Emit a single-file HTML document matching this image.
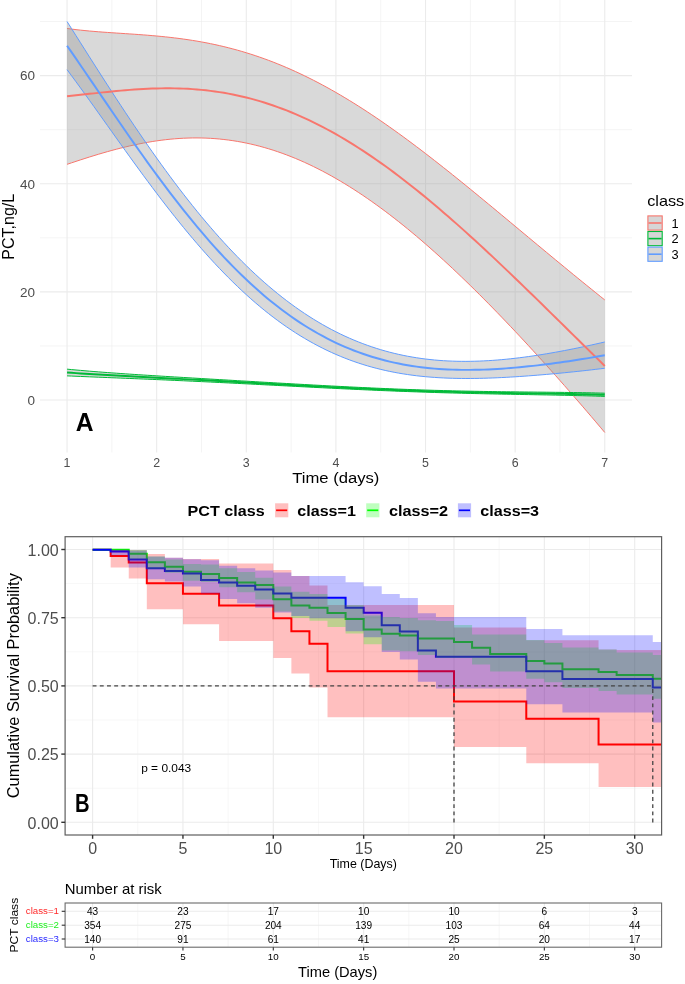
<!DOCTYPE html>
<html><head><meta charset="utf-8"><title>PCT class trajectories and survival</title>
<style>html,body{margin:0;padding:0;background:#fff;}svg{display:block;}</style>
</head><body>
<svg width="685" height="984" viewBox="0 0 685 984" font-family="'Liberation Sans', Arial, Helvetica, sans-serif">
<rect width="685" height="984" fill="#ffffff"/>
<defs><clipPath id="cpTop"><rect x="40.0" y="0.0" width="592.0" height="452.5"/></clipPath></defs>
<line x1="40.0" x2="632.0" y1="345.93" y2="345.93" stroke="#ebebeb" stroke-width="0.55"/><line x1="40.0" x2="632.0" y1="237.79" y2="237.79" stroke="#ebebeb" stroke-width="0.55"/><line x1="40.0" x2="632.0" y1="129.65" y2="129.65" stroke="#ebebeb" stroke-width="0.55"/><line x1="40.0" x2="632.0" y1="21.51" y2="21.51" stroke="#ebebeb" stroke-width="0.55"/><line x1="111.86" x2="111.86" y1="0.0" y2="452.5" stroke="#ebebeb" stroke-width="0.55"/><line x1="201.48" x2="201.48" y1="0.0" y2="452.5" stroke="#ebebeb" stroke-width="0.55"/><line x1="291.10" x2="291.10" y1="0.0" y2="452.5" stroke="#ebebeb" stroke-width="0.55"/><line x1="380.72" x2="380.72" y1="0.0" y2="452.5" stroke="#ebebeb" stroke-width="0.55"/><line x1="470.34" x2="470.34" y1="0.0" y2="452.5" stroke="#ebebeb" stroke-width="0.55"/><line x1="559.96" x2="559.96" y1="0.0" y2="452.5" stroke="#ebebeb" stroke-width="0.55"/><line x1="40.0" x2="632.0" y1="400.00" y2="400.00" stroke="#ebebeb" stroke-width="1.1"/><line x1="40.0" x2="632.0" y1="291.86" y2="291.86" stroke="#ebebeb" stroke-width="1.1"/><line x1="40.0" x2="632.0" y1="183.72" y2="183.72" stroke="#ebebeb" stroke-width="1.1"/><line x1="40.0" x2="632.0" y1="75.58" y2="75.58" stroke="#ebebeb" stroke-width="1.1"/><line x1="67.05" x2="67.05" y1="0.0" y2="452.5" stroke="#ebebeb" stroke-width="1.1"/><line x1="156.67" x2="156.67" y1="0.0" y2="452.5" stroke="#ebebeb" stroke-width="1.1"/><line x1="246.29" x2="246.29" y1="0.0" y2="452.5" stroke="#ebebeb" stroke-width="1.1"/><line x1="335.91" x2="335.91" y1="0.0" y2="452.5" stroke="#ebebeb" stroke-width="1.1"/><line x1="425.53" x2="425.53" y1="0.0" y2="452.5" stroke="#ebebeb" stroke-width="1.1"/><line x1="515.15" x2="515.15" y1="0.0" y2="452.5" stroke="#ebebeb" stroke-width="1.1"/><line x1="604.77" x2="604.77" y1="0.0" y2="452.5" stroke="#ebebeb" stroke-width="1.1"/>
<g clip-path="url(#cpTop)"><polygon points="67.05,28.46 71.53,29.07 76.01,29.63 80.49,30.13 84.97,30.59 89.45,31.02 93.94,31.40 98.42,31.77 102.90,32.11 107.38,32.43 111.86,32.74 116.34,33.04 120.82,33.33 125.30,33.63 129.78,33.93 134.26,34.23 138.75,34.55 143.23,34.88 147.71,35.23 152.19,35.61 156.67,36.01 161.15,36.43 165.63,36.89 170.11,37.38 174.59,37.90 179.07,38.46 183.56,39.07 188.04,39.71 192.52,40.41 197.00,41.14 201.48,41.93 205.96,42.76 210.44,43.65 214.92,44.59 219.40,45.59 223.88,46.64 228.37,47.74 232.85,48.91 237.33,50.13 241.81,51.41 246.29,52.76 250.77,54.16 255.25,55.62 259.73,57.15 264.21,58.73 268.69,60.38 273.18,62.09 277.66,63.87 282.14,65.70 286.62,67.60 291.10,69.56 295.58,71.58 300.06,73.66 304.54,75.80 309.02,78.00 313.50,80.27 317.99,82.59 322.47,84.97 326.95,87.40 331.43,89.90 335.91,92.45 340.39,95.05 344.87,97.71 349.35,100.43 353.83,103.19 358.31,106.01 362.80,108.87 367.28,111.79 371.76,114.75 376.24,117.76 380.72,120.81 385.20,123.91 389.68,127.05 394.16,130.23 398.64,133.45 403.13,136.71 407.61,140.00 412.09,143.33 416.57,146.69 421.05,150.09 425.53,153.52 430.01,156.97 434.49,160.46 438.97,163.97 443.45,167.50 447.94,171.06 452.42,174.64 456.90,178.24 461.38,181.86 465.86,185.50 470.34,189.15 474.82,192.82 479.30,196.50 483.78,200.19 488.26,203.89 492.75,207.60 497.23,211.32 501.71,215.05 506.19,218.78 510.67,222.51 515.15,226.24 519.63,229.98 524.11,233.72 528.59,237.45 533.07,241.19 537.55,244.92 542.04,248.64 546.52,252.36 551.00,256.08 555.48,259.78 559.96,263.48 564.44,267.17 568.92,270.86 573.40,274.53 577.88,278.19 582.37,281.85 586.85,285.49 591.33,289.12 595.81,292.74 600.29,296.35 604.77,299.94 604.77,432.48 600.29,427.17 595.81,421.88 591.33,416.62 586.85,411.38 582.37,406.17 577.88,400.99 573.40,395.83 568.92,390.70 564.44,385.60 559.96,380.52 555.48,375.47 551.00,370.45 546.52,365.46 542.04,360.49 537.55,355.56 533.07,350.65 528.59,345.77 524.11,340.93 519.63,336.12 515.15,331.34 510.67,326.59 506.19,321.88 501.71,317.20 497.23,312.56 492.75,307.95 488.26,303.39 483.78,298.86 479.30,294.37 474.82,289.92 470.34,285.52 465.86,281.15 461.38,276.83 456.90,272.56 452.42,268.33 447.94,264.15 443.45,260.02 438.97,255.94 434.49,251.91 430.01,247.93 425.53,244.01 421.05,240.14 416.57,236.32 412.09,232.57 407.61,228.87 403.13,225.22 398.64,221.64 394.16,218.13 389.68,214.67 385.20,211.28 380.72,207.95 376.24,204.69 371.76,201.50 367.28,198.37 362.80,195.31 358.31,192.33 353.83,189.42 349.35,186.57 344.87,183.81 340.39,181.11 335.91,178.50 331.43,175.95 326.95,173.49 322.47,171.10 317.99,168.80 313.50,166.57 309.02,164.42 304.54,162.35 300.06,160.37 295.58,158.47 291.10,156.65 286.62,154.91 282.14,153.26 277.66,151.69 273.18,150.20 268.69,148.80 264.21,147.49 259.73,146.26 255.25,145.11 250.77,144.05 246.29,143.08 241.81,142.19 237.33,141.39 232.85,140.67 228.37,140.04 223.88,139.49 219.40,139.02 214.92,138.64 210.44,138.34 205.96,138.12 201.48,137.98 197.00,137.93 192.52,137.95 188.04,138.05 183.56,138.23 179.07,138.49 174.59,138.82 170.11,139.23 165.63,139.70 161.15,140.25 156.67,140.87 152.19,141.56 147.71,142.31 143.23,143.12 138.75,144.00 134.26,144.94 129.78,145.93 125.30,146.98 120.82,148.08 116.34,149.23 111.86,150.43 107.38,151.67 102.90,152.96 98.42,154.28 93.94,155.64 89.45,157.03 84.97,158.45 80.49,159.89 76.01,161.36 71.53,162.84 67.05,164.34" fill="#999999" fill-opacity="0.37" stroke="none"/><polyline points="67.05,28.46 71.53,29.07 76.01,29.63 80.49,30.13 84.97,30.59 89.45,31.02 93.94,31.40 98.42,31.77 102.90,32.11 107.38,32.43 111.86,32.74 116.34,33.04 120.82,33.33 125.30,33.63 129.78,33.93 134.26,34.23 138.75,34.55 143.23,34.88 147.71,35.23 152.19,35.61 156.67,36.01 161.15,36.43 165.63,36.89 170.11,37.38 174.59,37.90 179.07,38.46 183.56,39.07 188.04,39.71 192.52,40.41 197.00,41.14 201.48,41.93 205.96,42.76 210.44,43.65 214.92,44.59 219.40,45.59 223.88,46.64 228.37,47.74 232.85,48.91 237.33,50.13 241.81,51.41 246.29,52.76 250.77,54.16 255.25,55.62 259.73,57.15 264.21,58.73 268.69,60.38 273.18,62.09 277.66,63.87 282.14,65.70 286.62,67.60 291.10,69.56 295.58,71.58 300.06,73.66 304.54,75.80 309.02,78.00 313.50,80.27 317.99,82.59 322.47,84.97 326.95,87.40 331.43,89.90 335.91,92.45 340.39,95.05 344.87,97.71 349.35,100.43 353.83,103.19 358.31,106.01 362.80,108.87 367.28,111.79 371.76,114.75 376.24,117.76 380.72,120.81 385.20,123.91 389.68,127.05 394.16,130.23 398.64,133.45 403.13,136.71 407.61,140.00 412.09,143.33 416.57,146.69 421.05,150.09 425.53,153.52 430.01,156.97 434.49,160.46 438.97,163.97 443.45,167.50 447.94,171.06 452.42,174.64 456.90,178.24 461.38,181.86 465.86,185.50 470.34,189.15 474.82,192.82 479.30,196.50 483.78,200.19 488.26,203.89 492.75,207.60 497.23,211.32 501.71,215.05 506.19,218.78 510.67,222.51 515.15,226.24 519.63,229.98 524.11,233.72 528.59,237.45 533.07,241.19 537.55,244.92 542.04,248.64 546.52,252.36 551.00,256.08 555.48,259.78 559.96,263.48 564.44,267.17 568.92,270.86 573.40,274.53 577.88,278.19 582.37,281.85 586.85,285.49 591.33,289.12 595.81,292.74 600.29,296.35 604.77,299.94" fill="none" stroke="#F8766D" stroke-width="1.0"/><polyline points="67.05,164.34 71.53,162.84 76.01,161.36 80.49,159.89 84.97,158.45 89.45,157.03 93.94,155.64 98.42,154.28 102.90,152.96 107.38,151.67 111.86,150.43 116.34,149.23 120.82,148.08 125.30,146.98 129.78,145.93 134.26,144.94 138.75,144.00 143.23,143.12 147.71,142.31 152.19,141.56 156.67,140.87 161.15,140.25 165.63,139.70 170.11,139.23 174.59,138.82 179.07,138.49 183.56,138.23 188.04,138.05 192.52,137.95 197.00,137.93 201.48,137.98 205.96,138.12 210.44,138.34 214.92,138.64 219.40,139.02 223.88,139.49 228.37,140.04 232.85,140.67 237.33,141.39 241.81,142.19 246.29,143.08 250.77,144.05 255.25,145.11 259.73,146.26 264.21,147.49 268.69,148.80 273.18,150.20 277.66,151.69 282.14,153.26 286.62,154.91 291.10,156.65 295.58,158.47 300.06,160.37 304.54,162.35 309.02,164.42 313.50,166.57 317.99,168.80 322.47,171.10 326.95,173.49 331.43,175.95 335.91,178.50 340.39,181.11 344.87,183.81 349.35,186.57 353.83,189.42 358.31,192.33 362.80,195.31 367.28,198.37 371.76,201.50 376.24,204.69 380.72,207.95 385.20,211.28 389.68,214.67 394.16,218.13 398.64,221.64 403.13,225.22 407.61,228.87 412.09,232.57 416.57,236.32 421.05,240.14 425.53,244.01 430.01,247.93 434.49,251.91 438.97,255.94 443.45,260.02 447.94,264.15 452.42,268.33 456.90,272.56 461.38,276.83 465.86,281.15 470.34,285.52 474.82,289.92 479.30,294.37 483.78,298.86 488.26,303.39 492.75,307.95 497.23,312.56 501.71,317.20 506.19,321.88 510.67,326.59 515.15,331.34 519.63,336.12 524.11,340.93 528.59,345.77 533.07,350.65 537.55,355.56 542.04,360.49 546.52,365.46 551.00,370.45 555.48,375.47 559.96,380.52 564.44,385.60 568.92,390.70 573.40,395.83 577.88,400.99 582.37,406.17 586.85,411.38 591.33,416.62 595.81,421.88 600.29,427.17 604.77,432.48" fill="none" stroke="#F8766D" stroke-width="1.0"/><polygon points="67.05,369.15 71.53,369.58 76.01,369.99 80.49,370.39 84.97,370.78 89.45,371.16 93.94,371.52 98.42,371.87 102.90,372.22 107.38,372.56 111.86,372.88 116.34,373.20 120.82,373.52 125.30,373.83 129.78,374.13 134.26,374.43 138.75,374.72 143.23,375.01 147.71,375.29 152.19,375.57 156.67,375.85 161.15,376.13 165.63,376.40 170.11,376.67 174.59,376.94 179.07,377.21 183.56,377.48 188.04,377.75 192.52,378.01 197.00,378.28 201.48,378.54 205.96,378.81 210.44,379.07 214.92,379.33 219.40,379.60 223.88,379.86 228.37,380.12 232.85,380.38 237.33,380.65 241.81,380.91 246.29,381.17 250.77,381.43 255.25,381.69 259.73,381.96 264.21,382.22 268.69,382.48 273.18,382.74 277.66,383.00 282.14,383.25 286.62,383.51 291.10,383.76 295.58,384.02 300.06,384.27 304.54,384.52 309.02,384.77 313.50,385.02 317.99,385.26 322.47,385.51 326.95,385.75 331.43,385.98 335.91,386.22 340.39,386.45 344.87,386.68 349.35,386.90 353.83,387.12 358.31,387.34 362.80,387.55 367.28,387.76 371.76,387.97 376.24,388.17 380.72,388.37 385.20,388.56 389.68,388.74 394.16,388.93 398.64,389.10 403.13,389.27 407.61,389.44 412.09,389.60 416.57,389.76 421.05,389.91 425.53,390.05 430.01,390.19 434.49,390.33 438.97,390.45 443.45,390.58 447.94,390.69 452.42,390.81 456.90,390.91 461.38,391.01 465.86,391.11 470.34,391.20 474.82,391.29 479.30,391.37 483.78,391.44 488.26,391.52 492.75,391.58 497.23,391.65 501.71,391.71 506.19,391.77 510.67,391.82 515.15,391.87 519.63,391.92 524.11,391.97 528.59,392.02 533.07,392.06 537.55,392.11 542.04,392.15 546.52,392.20 551.00,392.25 555.48,392.30 559.96,392.35 564.44,392.41 568.92,392.47 573.40,392.53 577.88,392.60 582.37,392.68 586.85,392.76 591.33,392.85 595.81,392.96 600.29,393.07 604.77,393.19 604.77,396.43 600.29,396.27 595.81,396.12 591.33,395.98 586.85,395.85 582.37,395.73 577.88,395.62 573.40,395.51 568.92,395.40 564.44,395.31 559.96,395.21 555.48,395.12 551.00,395.03 546.52,394.95 542.04,394.87 537.55,394.79 533.07,394.70 528.59,394.62 524.11,394.54 519.63,394.46 515.15,394.38 510.67,394.30 506.19,394.22 501.71,394.13 497.23,394.04 492.75,393.95 488.26,393.86 483.78,393.77 479.30,393.67 474.82,393.57 470.34,393.46 465.86,393.35 461.38,393.24 456.90,393.12 452.42,393.00 447.94,392.88 443.45,392.75 438.97,392.62 434.49,392.48 430.01,392.34 425.53,392.19 421.05,392.04 416.57,391.89 412.09,391.73 407.61,391.56 403.13,391.40 398.64,391.22 394.16,391.05 389.68,390.87 385.20,390.69 380.72,390.50 376.24,390.31 371.76,390.11 367.28,389.92 362.80,389.71 358.31,389.51 353.83,389.30 349.35,389.09 344.87,388.88 340.39,388.66 335.91,388.44 331.43,388.22 326.95,388.00 322.47,387.78 317.99,387.55 313.50,387.32 309.02,387.09 304.54,386.86 300.06,386.63 295.58,386.40 291.10,386.17 286.62,385.93 282.14,385.70 277.66,385.47 273.18,385.23 268.69,385.00 264.21,384.77 259.73,384.53 255.25,384.30 250.77,384.07 246.29,383.84 241.81,383.61 237.33,383.38 232.85,383.16 228.37,382.93 223.88,382.71 219.40,382.49 214.92,382.27 210.44,382.05 205.96,381.83 201.48,381.62 197.00,381.41 192.52,381.20 188.04,380.99 183.56,380.78 179.07,380.58 174.59,380.38 170.11,380.18 165.63,379.98 161.15,379.79 156.67,379.59 152.19,379.40 147.71,379.21 143.23,379.02 138.75,378.84 134.26,378.65 129.78,378.47 125.30,378.28 120.82,378.10 116.34,377.92 111.86,377.74 107.38,377.55 102.90,377.37 98.42,377.19 93.94,377.00 89.45,376.82 84.97,376.63 80.49,376.44 76.01,376.25 71.53,376.06 67.05,375.86" fill="#999999" fill-opacity="0.37" stroke="none"/><polyline points="67.05,369.15 71.53,369.58 76.01,369.99 80.49,370.39 84.97,370.78 89.45,371.16 93.94,371.52 98.42,371.87 102.90,372.22 107.38,372.56 111.86,372.88 116.34,373.20 120.82,373.52 125.30,373.83 129.78,374.13 134.26,374.43 138.75,374.72 143.23,375.01 147.71,375.29 152.19,375.57 156.67,375.85 161.15,376.13 165.63,376.40 170.11,376.67 174.59,376.94 179.07,377.21 183.56,377.48 188.04,377.75 192.52,378.01 197.00,378.28 201.48,378.54 205.96,378.81 210.44,379.07 214.92,379.33 219.40,379.60 223.88,379.86 228.37,380.12 232.85,380.38 237.33,380.65 241.81,380.91 246.29,381.17 250.77,381.43 255.25,381.69 259.73,381.96 264.21,382.22 268.69,382.48 273.18,382.74 277.66,383.00 282.14,383.25 286.62,383.51 291.10,383.76 295.58,384.02 300.06,384.27 304.54,384.52 309.02,384.77 313.50,385.02 317.99,385.26 322.47,385.51 326.95,385.75 331.43,385.98 335.91,386.22 340.39,386.45 344.87,386.68 349.35,386.90 353.83,387.12 358.31,387.34 362.80,387.55 367.28,387.76 371.76,387.97 376.24,388.17 380.72,388.37 385.20,388.56 389.68,388.74 394.16,388.93 398.64,389.10 403.13,389.27 407.61,389.44 412.09,389.60 416.57,389.76 421.05,389.91 425.53,390.05 430.01,390.19 434.49,390.33 438.97,390.45 443.45,390.58 447.94,390.69 452.42,390.81 456.90,390.91 461.38,391.01 465.86,391.11 470.34,391.20 474.82,391.29 479.30,391.37 483.78,391.44 488.26,391.52 492.75,391.58 497.23,391.65 501.71,391.71 506.19,391.77 510.67,391.82 515.15,391.87 519.63,391.92 524.11,391.97 528.59,392.02 533.07,392.06 537.55,392.11 542.04,392.15 546.52,392.20 551.00,392.25 555.48,392.30 559.96,392.35 564.44,392.41 568.92,392.47 573.40,392.53 577.88,392.60 582.37,392.68 586.85,392.76 591.33,392.85 595.81,392.96 600.29,393.07 604.77,393.19" fill="none" stroke="#00BA38" stroke-width="1.0"/><polyline points="67.05,375.86 71.53,376.06 76.01,376.25 80.49,376.44 84.97,376.63 89.45,376.82 93.94,377.00 98.42,377.19 102.90,377.37 107.38,377.55 111.86,377.74 116.34,377.92 120.82,378.10 125.30,378.28 129.78,378.47 134.26,378.65 138.75,378.84 143.23,379.02 147.71,379.21 152.19,379.40 156.67,379.59 161.15,379.79 165.63,379.98 170.11,380.18 174.59,380.38 179.07,380.58 183.56,380.78 188.04,380.99 192.52,381.20 197.00,381.41 201.48,381.62 205.96,381.83 210.44,382.05 214.92,382.27 219.40,382.49 223.88,382.71 228.37,382.93 232.85,383.16 237.33,383.38 241.81,383.61 246.29,383.84 250.77,384.07 255.25,384.30 259.73,384.53 264.21,384.77 268.69,385.00 273.18,385.23 277.66,385.47 282.14,385.70 286.62,385.93 291.10,386.17 295.58,386.40 300.06,386.63 304.54,386.86 309.02,387.09 313.50,387.32 317.99,387.55 322.47,387.78 326.95,388.00 331.43,388.22 335.91,388.44 340.39,388.66 344.87,388.88 349.35,389.09 353.83,389.30 358.31,389.51 362.80,389.71 367.28,389.92 371.76,390.11 376.24,390.31 380.72,390.50 385.20,390.69 389.68,390.87 394.16,391.05 398.64,391.22 403.13,391.40 407.61,391.56 412.09,391.73 416.57,391.89 421.05,392.04 425.53,392.19 430.01,392.34 434.49,392.48 438.97,392.62 443.45,392.75 447.94,392.88 452.42,393.00 456.90,393.12 461.38,393.24 465.86,393.35 470.34,393.46 474.82,393.57 479.30,393.67 483.78,393.77 488.26,393.86 492.75,393.95 497.23,394.04 501.71,394.13 506.19,394.22 510.67,394.30 515.15,394.38 519.63,394.46 524.11,394.54 528.59,394.62 533.07,394.70 537.55,394.79 542.04,394.87 546.52,394.95 551.00,395.03 555.48,395.12 559.96,395.21 564.44,395.31 568.92,395.40 573.40,395.51 577.88,395.62 582.37,395.73 586.85,395.85 591.33,395.98 595.81,396.12 600.29,396.27 604.77,396.43" fill="none" stroke="#00BA38" stroke-width="1.0"/><polygon points="67.05,21.50 71.53,28.59 76.01,35.68 80.49,42.76 84.97,49.84 89.45,56.90 93.94,63.94 98.42,70.96 102.90,77.95 107.38,84.90 111.86,91.82 116.34,98.70 120.82,105.53 125.30,112.30 129.78,119.03 134.26,125.69 138.75,132.30 143.23,138.84 147.71,145.31 152.19,151.71 156.67,158.03 161.15,164.28 165.63,170.45 170.11,176.54 174.59,182.54 179.07,188.46 183.56,194.29 188.04,200.02 192.52,205.67 197.00,211.22 201.48,216.67 205.96,222.02 210.44,227.28 214.92,232.44 219.40,237.49 223.88,242.44 228.37,247.29 232.85,252.04 237.33,256.68 241.81,261.21 246.29,265.64 250.77,269.96 255.25,274.17 259.73,278.28 264.21,282.27 268.69,286.16 273.18,289.95 277.66,293.62 282.14,297.19 286.62,300.65 291.10,304.00 295.58,307.25 300.06,310.39 304.54,313.42 309.02,316.35 313.50,319.18 317.99,321.90 322.47,324.52 326.95,327.04 331.43,329.46 335.91,331.77 340.39,333.99 344.87,336.11 349.35,338.13 353.83,340.06 358.31,341.89 362.80,343.63 367.28,345.28 371.76,346.84 376.24,348.31 380.72,349.69 385.20,350.98 389.68,352.19 394.16,353.32 398.64,354.37 403.13,355.33 407.61,356.22 412.09,357.03 416.57,357.76 421.05,358.43 425.53,359.02 430.01,359.53 434.49,359.99 438.97,360.37 443.45,360.69 447.94,360.94 452.42,361.13 456.90,361.27 461.38,361.34 465.86,361.36 470.34,361.32 474.82,361.23 479.30,361.09 483.78,360.89 488.26,360.65 492.75,360.36 497.23,360.03 501.71,359.65 506.19,359.23 510.67,358.77 515.15,358.27 519.63,357.73 524.11,357.16 528.59,356.55 533.07,355.91 537.55,355.23 542.04,354.53 546.52,353.79 551.00,353.03 555.48,352.23 559.96,351.42 564.44,350.57 568.92,349.70 573.40,348.81 577.88,347.90 582.37,346.96 586.85,346.00 591.33,345.02 595.81,344.03 600.29,343.01 604.77,341.97 604.77,368.24 600.29,368.80 595.81,369.34 591.33,369.87 586.85,370.38 582.37,370.88 577.88,371.36 573.40,371.84 568.92,372.29 564.44,372.74 559.96,373.18 555.48,373.60 551.00,374.01 546.52,374.41 542.04,374.79 537.55,375.16 533.07,375.52 528.59,375.87 524.11,376.19 519.63,376.50 515.15,376.80 510.67,377.07 506.19,377.33 501.71,377.56 497.23,377.78 492.75,377.96 488.26,378.12 483.78,378.26 479.30,378.37 474.82,378.44 470.34,378.48 465.86,378.49 461.38,378.46 456.90,378.40 452.42,378.29 447.94,378.14 443.45,377.95 438.97,377.71 434.49,377.42 430.01,377.09 425.53,376.70 421.05,376.25 416.57,375.75 412.09,375.18 407.61,374.56 403.13,373.87 398.64,373.11 394.16,372.29 389.68,371.40 385.20,370.43 380.72,369.39 376.24,368.27 371.76,367.08 367.28,365.80 362.80,364.44 358.31,362.99 353.83,361.46 349.35,359.83 344.87,358.12 340.39,356.32 335.91,354.42 331.43,352.42 326.95,350.33 322.47,348.14 317.99,345.84 313.50,343.45 309.02,340.95 304.54,338.35 300.06,335.65 295.58,332.83 291.10,329.91 286.62,326.89 282.14,323.75 277.66,320.50 273.18,317.15 268.69,313.68 264.21,310.11 259.73,306.42 255.25,302.63 250.77,298.72 246.29,294.70 241.81,290.58 237.33,286.35 232.85,282.00 228.37,277.56 223.88,273.00 219.40,268.34 214.92,263.58 210.44,258.72 205.96,253.76 201.48,248.70 197.00,243.54 192.52,238.29 188.04,232.95 183.56,227.53 179.07,222.01 174.59,216.42 170.11,210.75 165.63,205.00 161.15,199.18 156.67,193.29 152.19,187.34 147.71,181.33 143.23,175.27 138.75,169.16 134.26,163.00 129.78,156.81 125.30,150.58 120.82,144.32 116.34,138.05 111.86,131.76 107.38,125.46 102.90,119.16 98.42,112.87 93.94,106.59 89.45,100.33 84.97,94.10 80.49,87.91 76.01,81.77 71.53,75.68 67.05,69.66" fill="#999999" fill-opacity="0.37" stroke="none"/><polyline points="67.05,21.50 71.53,28.59 76.01,35.68 80.49,42.76 84.97,49.84 89.45,56.90 93.94,63.94 98.42,70.96 102.90,77.95 107.38,84.90 111.86,91.82 116.34,98.70 120.82,105.53 125.30,112.30 129.78,119.03 134.26,125.69 138.75,132.30 143.23,138.84 147.71,145.31 152.19,151.71 156.67,158.03 161.15,164.28 165.63,170.45 170.11,176.54 174.59,182.54 179.07,188.46 183.56,194.29 188.04,200.02 192.52,205.67 197.00,211.22 201.48,216.67 205.96,222.02 210.44,227.28 214.92,232.44 219.40,237.49 223.88,242.44 228.37,247.29 232.85,252.04 237.33,256.68 241.81,261.21 246.29,265.64 250.77,269.96 255.25,274.17 259.73,278.28 264.21,282.27 268.69,286.16 273.18,289.95 277.66,293.62 282.14,297.19 286.62,300.65 291.10,304.00 295.58,307.25 300.06,310.39 304.54,313.42 309.02,316.35 313.50,319.18 317.99,321.90 322.47,324.52 326.95,327.04 331.43,329.46 335.91,331.77 340.39,333.99 344.87,336.11 349.35,338.13 353.83,340.06 358.31,341.89 362.80,343.63 367.28,345.28 371.76,346.84 376.24,348.31 380.72,349.69 385.20,350.98 389.68,352.19 394.16,353.32 398.64,354.37 403.13,355.33 407.61,356.22 412.09,357.03 416.57,357.76 421.05,358.43 425.53,359.02 430.01,359.53 434.49,359.99 438.97,360.37 443.45,360.69 447.94,360.94 452.42,361.13 456.90,361.27 461.38,361.34 465.86,361.36 470.34,361.32 474.82,361.23 479.30,361.09 483.78,360.89 488.26,360.65 492.75,360.36 497.23,360.03 501.71,359.65 506.19,359.23 510.67,358.77 515.15,358.27 519.63,357.73 524.11,357.16 528.59,356.55 533.07,355.91 537.55,355.23 542.04,354.53 546.52,353.79 551.00,353.03 555.48,352.23 559.96,351.42 564.44,350.57 568.92,349.70 573.40,348.81 577.88,347.90 582.37,346.96 586.85,346.00 591.33,345.02 595.81,344.03 600.29,343.01 604.77,341.97" fill="none" stroke="#619CFF" stroke-width="1.0"/><polyline points="67.05,69.66 71.53,75.68 76.01,81.77 80.49,87.91 84.97,94.10 89.45,100.33 93.94,106.59 98.42,112.87 102.90,119.16 107.38,125.46 111.86,131.76 116.34,138.05 120.82,144.32 125.30,150.58 129.78,156.81 134.26,163.00 138.75,169.16 143.23,175.27 147.71,181.33 152.19,187.34 156.67,193.29 161.15,199.18 165.63,205.00 170.11,210.75 174.59,216.42 179.07,222.01 183.56,227.53 188.04,232.95 192.52,238.29 197.00,243.54 201.48,248.70 205.96,253.76 210.44,258.72 214.92,263.58 219.40,268.34 223.88,273.00 228.37,277.56 232.85,282.00 237.33,286.35 241.81,290.58 246.29,294.70 250.77,298.72 255.25,302.63 259.73,306.42 264.21,310.11 268.69,313.68 273.18,317.15 277.66,320.50 282.14,323.75 286.62,326.89 291.10,329.91 295.58,332.83 300.06,335.65 304.54,338.35 309.02,340.95 313.50,343.45 317.99,345.84 322.47,348.14 326.95,350.33 331.43,352.42 335.91,354.42 340.39,356.32 344.87,358.12 349.35,359.83 353.83,361.46 358.31,362.99 362.80,364.44 367.28,365.80 371.76,367.08 376.24,368.27 380.72,369.39 385.20,370.43 389.68,371.40 394.16,372.29 398.64,373.11 403.13,373.87 407.61,374.56 412.09,375.18 416.57,375.75 421.05,376.25 425.53,376.70 430.01,377.09 434.49,377.42 438.97,377.71 443.45,377.95 447.94,378.14 452.42,378.29 456.90,378.40 461.38,378.46 465.86,378.49 470.34,378.48 474.82,378.44 479.30,378.37 483.78,378.26 488.26,378.12 492.75,377.96 497.23,377.78 501.71,377.56 506.19,377.33 510.67,377.07 515.15,376.80 519.63,376.50 524.11,376.19 528.59,375.87 533.07,375.52 537.55,375.16 542.04,374.79 546.52,374.41 551.00,374.01 555.48,373.60 559.96,373.18 564.44,372.74 568.92,372.29 573.40,371.84 577.88,371.36 582.37,370.88 586.85,370.38 591.33,369.87 595.81,369.34 600.29,368.80 604.77,368.24" fill="none" stroke="#619CFF" stroke-width="1.0"/><polyline points="67.05,96.16 71.53,95.72 76.01,95.27 80.49,94.80 84.97,94.33 89.45,93.84 93.94,93.36 98.42,92.88 102.90,92.40 107.38,91.94 111.86,91.49 116.34,91.06 120.82,90.64 125.30,90.25 129.78,89.89 134.26,89.56 138.75,89.26 143.23,89.00 147.71,88.77 152.19,88.59 156.67,88.45 161.15,88.35 165.63,88.30 170.11,88.30 174.59,88.35 179.07,88.46 183.56,88.62 188.04,88.84 192.52,89.12 197.00,89.46 201.48,89.86 205.96,90.32 210.44,90.85 214.92,91.44 219.40,92.10 223.88,92.83 228.37,93.63 232.85,94.49 237.33,95.43 241.81,96.43 246.29,97.51 250.77,98.66 255.25,99.88 259.73,101.17 264.21,102.53 268.69,103.97 273.18,105.48 277.66,107.06 282.14,108.72 286.62,110.45 291.10,112.25 295.58,114.13 300.06,116.07 304.54,118.09 309.02,120.18 313.50,122.35 317.99,124.58 322.47,126.88 326.95,129.25 331.43,131.69 335.91,134.20 340.39,136.78 344.87,139.42 349.35,142.13 353.83,144.91 358.31,147.75 362.80,150.65 367.28,153.61 371.76,156.64 376.24,159.72 380.72,162.86 385.20,166.07 389.68,169.32 394.16,172.64 398.64,176.01 403.13,179.43 407.61,182.90 412.09,186.42 416.57,190.00 421.05,193.62 425.53,197.28 430.01,200.99 434.49,204.75 438.97,208.55 443.45,212.39 447.94,216.27 452.42,220.18 456.90,224.13 461.38,228.12 465.86,232.15 470.34,236.20 474.82,240.29 479.30,244.40 483.78,248.54 488.26,252.71 492.75,256.91 497.23,261.13 501.71,265.37 506.19,269.63 510.67,273.91 515.15,278.21 519.63,282.52 524.11,286.85 528.59,291.20 533.07,295.55 537.55,299.92 542.04,304.30 546.52,308.69 551.00,313.08 555.48,317.48 559.96,321.89 564.44,326.29 568.92,330.71 573.40,335.12 577.88,339.53 582.37,343.95 586.85,348.36 591.33,352.77 595.81,357.17 600.29,361.57 604.77,365.97" fill="none" stroke="#F8766D" stroke-width="1.95"/><polyline points="67.05,372.51 71.53,372.82 76.01,373.12 80.49,373.42 84.97,373.71 89.45,373.99 93.94,374.26 98.42,374.53 102.90,374.80 107.38,375.05 111.86,375.31 116.34,375.56 120.82,375.81 125.30,376.05 129.78,376.30 134.26,376.54 138.75,376.78 143.23,377.02 147.71,377.25 152.19,377.49 156.67,377.72 161.15,377.96 165.63,378.19 170.11,378.43 174.59,378.66 179.07,378.90 183.56,379.13 188.04,379.37 192.52,379.60 197.00,379.84 201.48,380.08 205.96,380.32 210.44,380.56 214.92,380.80 219.40,381.04 223.88,381.28 228.37,381.53 232.85,381.77 237.33,382.02 241.81,382.26 246.29,382.51 250.77,382.75 255.25,383.00 259.73,383.24 264.21,383.49 268.69,383.74 273.18,383.98 277.66,384.23 282.14,384.48 286.62,384.72 291.10,384.97 295.58,385.21 300.06,385.45 304.54,385.69 309.02,385.93 313.50,386.17 317.99,386.41 322.47,386.64 326.95,386.87 331.43,387.10 335.91,387.33 340.39,387.56 344.87,387.78 349.35,388.00 353.83,388.21 358.31,388.42 362.80,388.63 367.28,388.84 371.76,389.04 376.24,389.24 380.72,389.43 385.20,389.62 389.68,389.81 394.16,389.99 398.64,390.16 403.13,390.34 407.61,390.50 412.09,390.66 416.57,390.82 421.05,390.97 425.53,391.12 430.01,391.26 434.49,391.40 438.97,391.53 443.45,391.66 447.94,391.79 452.42,391.90 456.90,392.02 461.38,392.13 465.86,392.23 470.34,392.33 474.82,392.43 479.30,392.52 483.78,392.61 488.26,392.69 492.75,392.77 497.23,392.85 501.71,392.92 506.19,392.99 510.67,393.06 515.15,393.13 519.63,393.19 524.11,393.26 528.59,393.32 533.07,393.38 537.55,393.45 542.04,393.51 546.52,393.58 551.00,393.64 555.48,393.71 559.96,393.78 564.44,393.86 568.92,393.94 573.40,394.02 577.88,394.11 582.37,394.20 586.85,394.31 591.33,394.42 595.81,394.54 600.29,394.67 604.77,394.81" fill="none" stroke="#00BA38" stroke-width="1.95"/><polyline points="67.05,45.72 71.53,52.18 76.01,58.67 80.49,65.20 84.97,71.75 89.45,78.33 93.94,84.91 98.42,91.50 102.90,98.09 107.38,104.67 111.86,111.23 116.34,117.77 120.82,124.29 125.30,130.78 129.78,137.23 134.26,143.64 138.75,150.00 143.23,156.31 147.71,162.56 152.19,168.76 156.67,174.89 161.15,180.95 165.63,186.95 170.11,192.86 174.59,198.70 179.07,204.46 183.56,210.14 188.04,215.73 192.52,221.23 197.00,226.64 201.48,231.95 205.96,237.17 210.44,242.29 214.92,247.31 219.40,252.23 223.88,257.05 228.37,261.77 232.85,266.38 237.33,270.88 241.81,275.28 246.29,279.57 250.77,283.75 255.25,287.83 259.73,291.79 264.21,295.65 268.69,299.40 273.18,303.03 277.66,306.56 282.14,309.98 286.62,313.30 291.10,316.50 295.58,319.60 300.06,322.59 304.54,325.47 309.02,328.25 313.50,330.92 317.99,333.49 322.47,335.96 326.95,338.33 331.43,340.59 335.91,342.76 340.39,344.83 344.87,346.80 349.35,348.68 353.83,350.47 358.31,352.16 362.80,353.76 367.28,355.28 371.76,356.70 376.24,358.05 380.72,359.31 385.20,360.49 389.68,361.58 394.16,362.60 398.64,363.55 403.13,364.42 407.61,365.22 412.09,365.94 416.57,366.60 421.05,367.20 425.53,367.72 430.01,368.19 434.49,368.60 438.97,368.94 443.45,369.23 447.94,369.47 452.42,369.65 456.90,369.78 461.38,369.86 465.86,369.90 470.34,369.88 474.82,369.83 479.30,369.73 483.78,369.60 488.26,369.42 492.75,369.21 497.23,368.96 501.71,368.67 506.19,368.36 510.67,368.01 515.15,367.64 519.63,367.23 524.11,366.80 528.59,366.34 533.07,365.86 537.55,365.35 542.04,364.82 546.52,364.26 551.00,363.69 555.48,363.09 559.96,362.47 564.44,361.83 568.92,361.17 573.40,360.50 577.88,359.80 582.37,359.08 586.85,358.35 591.33,357.59 595.81,356.82 600.29,356.02 604.77,355.21" fill="none" stroke="#619CFF" stroke-width="1.95"/></g>
<text x="35.0" y="404.90" font-size="13.5" fill="#4d4d4d" text-anchor="end">0</text>
<text x="35.0" y="296.76" font-size="13.5" fill="#4d4d4d" text-anchor="end">20</text>
<text x="35.0" y="188.62" font-size="13.5" fill="#4d4d4d" text-anchor="end">40</text>
<text x="35.0" y="80.48" font-size="13.5" fill="#4d4d4d" text-anchor="end">60</text>
<text x="67.05" y="466.8" font-size="12.4" fill="#4d4d4d" text-anchor="middle">1</text>
<text x="156.67" y="466.8" font-size="12.4" fill="#4d4d4d" text-anchor="middle">2</text>
<text x="246.29" y="466.8" font-size="12.4" fill="#4d4d4d" text-anchor="middle">3</text>
<text x="335.91" y="466.8" font-size="12.4" fill="#4d4d4d" text-anchor="middle">4</text>
<text x="425.53" y="466.8" font-size="12.4" fill="#4d4d4d" text-anchor="middle">5</text>
<text x="515.15" y="466.8" font-size="12.4" fill="#4d4d4d" text-anchor="middle">6</text>
<text x="604.77" y="466.8" font-size="12.4" fill="#4d4d4d" text-anchor="middle">7</text>
<text x="292.2" y="482.9" font-size="15.2" fill="#000" textLength="87.2" lengthAdjust="spacingAndGlyphs">Time (days)</text>
<text transform="translate(14.3,259.7) rotate(-90)" x="0" y="0" font-size="16.3" fill="#000" textLength="65.9" lengthAdjust="spacingAndGlyphs">PCT,ng/L</text>
<text x="75.8" y="431.1" font-size="26" font-weight="bold" fill="#000" textLength="17.8" lengthAdjust="spacingAndGlyphs">A</text>
<text x="647.2" y="205.6" font-size="14.8" fill="#000" textLength="37" lengthAdjust="spacingAndGlyphs">class</text>
<rect x="647.9" y="215.90" width="14.3" height="14.2" fill="#d6d6d6" stroke="#F8766D" stroke-width="1.1"/>
<line x1="648.5" x2="661.6" y1="223.00" y2="223.00" stroke="#F8766D" stroke-width="1.6"/>
<text x="671.4" y="227.80" font-size="12.8" fill="#000">1</text>
<rect x="647.9" y="231.50" width="14.3" height="14.2" fill="#d6d6d6" stroke="#00BA38" stroke-width="1.1"/>
<line x1="648.5" x2="661.6" y1="238.60" y2="238.60" stroke="#00BA38" stroke-width="1.6"/>
<text x="671.4" y="243.40" font-size="12.8" fill="#000">2</text>
<rect x="647.9" y="247.10" width="14.3" height="14.2" fill="#d6d6d6" stroke="#619CFF" stroke-width="1.1"/>
<line x1="648.5" x2="661.6" y1="254.20" y2="254.20" stroke="#619CFF" stroke-width="1.6"/>
<text x="671.4" y="259.00" font-size="12.8" fill="#000">3</text>
<defs><clipPath id="cpKM"><rect x="65.1" y="536.7" width="596.5" height="298.29999999999995"/></clipPath></defs>
<line x1="65.1" x2="661.6" y1="788.20" y2="788.20" stroke="#f2f2f2" stroke-width="0.6"/><line x1="65.1" x2="661.6" y1="720.00" y2="720.00" stroke="#f2f2f2" stroke-width="0.6"/><line x1="65.1" x2="661.6" y1="651.80" y2="651.80" stroke="#f2f2f2" stroke-width="0.6"/><line x1="65.1" x2="661.6" y1="583.60" y2="583.60" stroke="#f2f2f2" stroke-width="0.6"/><line x1="137.77" x2="137.77" y1="536.7" y2="835.0" stroke="#f2f2f2" stroke-width="0.6"/><line x1="228.12" x2="228.12" y1="536.7" y2="835.0" stroke="#f2f2f2" stroke-width="0.6"/><line x1="318.48" x2="318.48" y1="536.7" y2="835.0" stroke="#f2f2f2" stroke-width="0.6"/><line x1="408.83" x2="408.83" y1="536.7" y2="835.0" stroke="#f2f2f2" stroke-width="0.6"/><line x1="499.17" x2="499.17" y1="536.7" y2="835.0" stroke="#f2f2f2" stroke-width="0.6"/><line x1="589.52" x2="589.52" y1="536.7" y2="835.0" stroke="#f2f2f2" stroke-width="0.6"/><line x1="65.1" x2="661.6" y1="822.30" y2="822.30" stroke="#ebebeb" stroke-width="1.1"/><line x1="65.1" x2="661.6" y1="754.10" y2="754.10" stroke="#ebebeb" stroke-width="1.1"/><line x1="65.1" x2="661.6" y1="685.90" y2="685.90" stroke="#ebebeb" stroke-width="1.1"/><line x1="65.1" x2="661.6" y1="617.70" y2="617.70" stroke="#ebebeb" stroke-width="1.1"/><line x1="65.1" x2="661.6" y1="549.50" y2="549.50" stroke="#ebebeb" stroke-width="1.1"/><line x1="92.60" x2="92.60" y1="536.7" y2="835.0" stroke="#ebebeb" stroke-width="1.1"/><line x1="182.95" x2="182.95" y1="536.7" y2="835.0" stroke="#ebebeb" stroke-width="1.1"/><line x1="273.30" x2="273.30" y1="536.7" y2="835.0" stroke="#ebebeb" stroke-width="1.1"/><line x1="363.65" x2="363.65" y1="536.7" y2="835.0" stroke="#ebebeb" stroke-width="1.1"/><line x1="454.00" x2="454.00" y1="536.7" y2="835.0" stroke="#ebebeb" stroke-width="1.1"/><line x1="544.35" x2="544.35" y1="536.7" y2="835.0" stroke="#ebebeb" stroke-width="1.1"/><line x1="634.70" x2="634.70" y1="536.7" y2="835.0" stroke="#ebebeb" stroke-width="1.1"/>
<g clip-path="url(#cpKM)">
<path d="M92.60,549.80 L110.67,549.80 L110.67,556.00 L128.74,556.00 L128.74,562.40 L146.81,562.40 L146.81,583.30 L164.88,583.30 L164.88,583.30 L182.95,583.30 L182.95,593.70 L201.02,593.70 L201.02,593.70 L219.09,593.70 L219.09,605.50 L237.16,605.50 L237.16,605.50 L255.23,605.50 L255.23,605.50 L273.30,605.50 L273.30,618.30 L291.37,618.30 L291.37,631.30 L309.44,631.30 L309.44,643.80 L327.51,643.80 L327.51,671.30 L345.58,671.30 L345.58,671.30 L363.65,671.30 L363.65,671.30 L381.72,671.30 L381.72,671.30 L399.79,671.30 L399.79,671.30 L417.86,671.30 L417.86,671.30 L435.93,671.30 L435.93,671.30 L454.00,671.30 L454.00,701.40 L472.07,701.40 L472.07,701.40 L490.14,701.40 L490.14,701.40 L508.21,701.40 L508.21,701.40 L526.28,701.40 L526.28,718.70 L544.35,718.70 L544.35,718.70 L562.42,718.70 L562.42,718.70 L580.49,718.70 L580.49,718.70 L598.56,718.70 L598.56,744.60 L616.63,744.60 L616.63,744.60 L634.70,744.60 L634.70,744.60 L652.77,744.60 L652.77,744.60 L661.60,744.60" fill="none" stroke="#ff0000" stroke-width="2.0"/>
<path d="M92.60,549.80 L110.67,549.80 L110.67,549.80 L128.74,549.80 L128.74,553.70 L146.81,553.70 L146.81,562.20 L164.88,562.20 L164.88,566.80 L182.95,566.80 L182.95,571.80 L201.02,571.80 L201.02,574.10 L219.09,574.10 L219.09,578.00 L237.16,578.00 L237.16,582.40 L255.23,582.40 L255.23,585.00 L273.30,585.00 L273.30,599.20 L291.37,599.20 L291.37,605.40 L309.44,605.40 L309.44,607.80 L327.51,607.80 L327.51,613.00 L345.58,613.00 L345.58,619.00 L363.65,619.00 L363.65,629.40 L381.72,629.40 L381.72,633.70 L399.79,633.70 L399.79,635.40 L417.86,635.40 L417.86,638.40 L435.93,638.40 L435.93,638.40 L454.00,638.40 L454.00,641.90 L472.07,641.90 L472.07,647.70 L490.14,647.70 L490.14,654.00 L508.21,654.00 L508.21,654.00 L526.28,654.00 L526.28,661.00 L544.35,661.00 L544.35,663.40 L562.42,663.40 L562.42,669.30 L580.49,669.30 L580.49,669.30 L598.56,669.30 L598.56,672.00 L616.63,672.00 L616.63,675.00 L634.70,675.00 L634.70,675.00 L652.77,675.00 L652.77,678.70 L661.60,678.70" fill="none" stroke="#00ff00" stroke-width="2.0"/>
<path d="M92.60,549.80 L110.67,549.80 L110.67,551.60 L128.74,551.60 L128.74,559.60 L146.81,559.60 L146.81,568.30 L164.88,568.30 L164.88,571.00 L182.95,571.00 L182.95,573.40 L201.02,573.40 L201.02,579.90 L219.09,579.90 L219.09,582.40 L237.16,582.40 L237.16,585.80 L255.23,585.80 L255.23,589.40 L273.30,589.40 L273.30,593.60 L291.37,593.60 L291.37,597.80 L309.44,597.80 L309.44,597.80 L327.51,597.80 L327.51,597.80 L345.58,597.80 L345.58,607.70 L363.65,607.70 L363.65,612.80 L381.72,612.80 L381.72,625.30 L399.79,625.30 L399.79,631.40 L417.86,631.40 L417.86,650.60 L435.93,650.60 L435.93,656.80 L454.00,656.80 L454.00,656.80 L472.07,656.80 L472.07,656.80 L490.14,656.80 L490.14,656.80 L508.21,656.80 L508.21,656.80 L526.28,656.80 L526.28,671.30 L544.35,671.30 L544.35,671.30 L562.42,671.30 L562.42,679.00 L580.49,679.00 L580.49,679.00 L598.56,679.00 L598.56,679.00 L616.63,679.00 L616.63,679.00 L634.70,679.00 L634.70,679.00 L652.77,679.00 L652.77,687.60 L661.60,687.60" fill="none" stroke="#0000ff" stroke-width="2.0"/>
<polygon points="92.60,549.80 110.67,549.80 110.67,549.80 128.74,549.80 128.74,550.00 146.81,550.00 146.81,554.00 164.88,554.00 164.88,557.80 182.95,557.80 182.95,559.00 201.02,559.00 201.02,559.00 219.09,559.00 219.09,563.40 237.16,563.40 237.16,563.40 255.23,563.40 255.23,563.40 273.30,563.40 273.30,569.90 291.37,569.90 291.37,576.00 309.44,576.00 309.44,585.50 327.51,585.50 327.51,604.90 345.58,604.90 345.58,604.90 363.65,604.90 363.65,604.90 381.72,604.90 381.72,605.10 399.79,605.10 399.79,605.10 417.86,605.10 417.86,605.10 435.93,605.10 435.93,605.10 454.00,605.10 454.00,627.60 472.07,627.60 472.07,627.60 490.14,627.60 490.14,627.60 508.21,627.60 508.21,627.60 526.28,627.60 526.28,640.20 544.35,640.20 544.35,640.20 562.42,640.20 562.42,640.20 580.49,640.20 580.49,640.20 598.56,640.20 598.56,649.40 616.63,649.40 616.63,650.00 634.70,650.00 634.70,650.00 652.77,650.00 652.77,650.00 661.60,650.00 661.60,787.00 652.77,787.00 652.77,787.00 634.70,787.00 634.70,787.00 616.63,787.00 616.63,787.00 598.56,787.00 598.56,763.30 580.49,763.30 580.49,763.30 562.42,763.30 562.42,763.30 544.35,763.30 544.35,763.30 526.28,763.30 526.28,747.10 508.21,747.10 508.21,747.10 490.14,747.10 490.14,747.10 472.07,747.10 472.07,747.10 454.00,747.10 454.00,717.30 435.93,717.30 435.93,717.30 417.86,717.30 417.86,717.30 399.79,717.30 399.79,717.30 381.72,717.30 381.72,717.30 363.65,717.30 363.65,717.30 345.58,717.30 345.58,717.30 327.51,717.30 327.51,687.60 309.44,687.60 309.44,673.60 291.37,673.60 291.37,658.00 273.30,658.00 273.30,641.00 255.23,641.00 255.23,641.00 237.16,641.00 237.16,641.00 219.09,641.00 219.09,624.20 201.02,624.20 201.02,624.20 182.95,624.20 182.95,609.20 164.88,609.20 164.88,609.20 146.81,609.20 146.81,578.60 128.74,578.60 128.74,567.60 110.67,567.60 110.67,549.80 92.60,549.80" fill="#ff0000" fill-opacity="0.25" stroke="none"/>
<polygon points="92.60,549.80 110.67,549.80 110.67,549.80 128.74,549.80 128.74,550.00 146.81,550.00 146.81,556.40 164.88,556.40 164.88,559.60 182.95,559.60 182.95,563.90 201.02,563.90 201.02,564.60 219.09,564.60 219.09,568.20 237.16,568.20 237.16,571.90 255.23,571.90 255.23,577.70 273.30,577.70 273.30,586.50 291.37,586.50 291.37,591.80 309.44,591.80 309.44,594.00 327.51,594.00 327.51,599.00 345.58,599.00 345.58,604.90 363.65,604.90 363.65,615.40 381.72,615.40 381.72,617.00 399.79,617.00 399.79,617.90 417.86,617.90 417.86,620.20 435.93,620.20 435.93,620.90 454.00,620.90 454.00,624.90 472.07,624.90 472.07,634.40 490.14,634.40 490.14,634.40 508.21,634.40 508.21,634.40 526.28,634.40 526.28,640.00 544.35,640.00 544.35,642.90 562.42,642.90 562.42,647.50 580.49,647.50 580.49,647.50 598.56,647.50 598.56,649.40 616.63,649.40 616.63,652.40 634.70,652.40 634.70,652.40 652.77,652.40 652.77,654.90 661.60,654.90 661.60,698.80 652.77,698.80 652.77,694.50 634.70,694.50 634.70,694.50 616.63,694.50 616.63,690.90 598.56,690.90 598.56,688.00 580.49,688.00 580.49,688.00 562.42,688.00 562.42,682.30 544.35,682.30 544.35,678.80 526.28,678.80 526.28,671.60 508.21,671.60 508.21,671.60 490.14,671.60 490.14,664.50 472.07,664.50 472.07,658.00 454.00,658.00 454.00,658.00 435.93,658.00 435.93,655.00 417.86,655.00 417.86,651.20 399.79,651.20 399.79,650.50 381.72,650.50 381.72,644.30 363.65,644.30 363.65,633.40 345.58,633.40 345.58,627.00 327.51,627.00 327.51,620.70 309.44,620.70 309.44,618.00 291.37,618.00 291.37,611.50 273.30,611.50 273.30,599.60 255.23,599.60 255.23,592.30 237.16,592.30 237.16,587.20 219.09,587.20 219.09,582.10 201.02,582.10 201.02,580.70 182.95,580.70 182.95,572.70 164.88,572.70 164.88,569.00 146.81,569.00 146.81,559.60 128.74,559.60 128.74,549.80 110.67,549.80 110.67,549.80 92.60,549.80" fill="#00ff00" fill-opacity="0.25" stroke="none"/>
<polygon points="92.60,549.80 110.67,549.80 110.67,549.80 128.74,549.80 128.74,550.50 146.81,550.50 146.81,556.40 164.88,556.40 164.88,557.80 182.95,557.80 182.95,559.30 201.02,559.30 201.02,560.20 219.09,560.20 219.09,565.80 237.16,565.80 237.16,568.20 255.23,568.20 255.23,570.40 273.30,570.40 273.30,572.50 291.37,572.50 291.37,576.00 309.44,576.00 309.44,576.00 327.51,576.00 327.51,576.00 345.58,576.00 345.58,582.20 363.65,582.20 363.65,586.20 381.72,586.20 381.72,593.90 399.79,593.90 399.79,598.10 417.86,598.10 417.86,613.20 435.93,613.20 435.93,617.00 454.00,617.00 454.00,617.00 472.07,617.00 472.07,617.00 490.14,617.00 490.14,617.00 508.21,617.00 508.21,617.00 526.28,617.00 526.28,628.90 544.35,628.90 544.35,628.90 562.42,628.90 562.42,635.20 580.49,635.20 580.49,635.20 598.56,635.20 598.56,635.20 616.63,635.20 616.63,635.20 634.70,635.20 634.70,635.20 652.77,635.20 652.77,642.10 661.60,642.10 661.60,722.50 652.77,722.50 652.77,712.60 634.70,712.60 634.70,712.60 616.63,712.60 616.63,712.60 598.56,712.60 598.56,712.60 580.49,712.60 580.49,712.60 562.42,712.60 562.42,704.20 544.35,704.20 544.35,704.20 526.28,704.20 526.28,688.50 508.21,688.50 508.21,688.50 490.14,688.50 490.14,688.50 472.07,688.50 472.07,688.50 454.00,688.50 454.00,688.50 435.93,688.50 435.93,681.70 417.86,681.70 417.86,659.60 399.79,659.60 399.79,652.00 381.72,652.00 381.72,637.30 363.65,637.30 363.65,631.20 345.58,631.20 345.58,618.30 327.51,618.30 327.51,618.30 309.44,618.30 309.44,616.00 291.37,616.00 291.37,612.60 273.30,612.60 273.30,607.70 255.23,607.70 255.23,603.30 237.16,603.30 237.16,598.90 219.09,598.90 219.09,593.50 201.02,593.50 201.02,586.50 182.95,586.50 182.95,581.50 164.88,581.50 164.88,579.30 146.81,579.30 146.81,567.60 128.74,567.60 128.74,555.20 110.67,555.20 110.67,549.80 92.60,549.80" fill="#0000ff" fill-opacity="0.25" stroke="none"/>
<line x1="92.60" x2="652.77" y1="685.90" y2="685.90" stroke="#444" stroke-width="1.3" stroke-dasharray="3.9,3.3"/>
<line x1="454.00" x2="454.00" y1="822.50" y2="685.90" stroke="#444" stroke-width="1.3" stroke-dasharray="3.9,3.3"/>
<line x1="652.77" x2="652.77" y1="822.50" y2="685.90" stroke="#444" stroke-width="1.3" stroke-dasharray="3.9,3.3"/>
</g>
<rect x="65.1" y="536.7" width="596.5" height="298.29999999999995" fill="none" stroke="#5e5e5e" stroke-width="1.2"/>
<line x1="61.30" x2="65.1" y1="822.30" y2="822.30" stroke="#333" stroke-width="1.4"/><line x1="61.30" x2="65.1" y1="754.10" y2="754.10" stroke="#333" stroke-width="1.4"/><line x1="61.30" x2="65.1" y1="685.90" y2="685.90" stroke="#333" stroke-width="1.4"/><line x1="61.30" x2="65.1" y1="617.70" y2="617.70" stroke="#333" stroke-width="1.4"/><line x1="61.30" x2="65.1" y1="549.50" y2="549.50" stroke="#333" stroke-width="1.4"/><line x1="92.60" x2="92.60" y1="835.0" y2="838.80" stroke="#333" stroke-width="1.4"/><line x1="182.95" x2="182.95" y1="835.0" y2="838.80" stroke="#333" stroke-width="1.4"/><line x1="273.30" x2="273.30" y1="835.0" y2="838.80" stroke="#333" stroke-width="1.4"/><line x1="363.65" x2="363.65" y1="835.0" y2="838.80" stroke="#333" stroke-width="1.4"/><line x1="454.00" x2="454.00" y1="835.0" y2="838.80" stroke="#333" stroke-width="1.4"/><line x1="544.35" x2="544.35" y1="835.0" y2="838.80" stroke="#333" stroke-width="1.4"/><line x1="634.70" x2="634.70" y1="835.0" y2="838.80" stroke="#333" stroke-width="1.4"/>
<text x="58.7" y="828.60" font-size="16" fill="#4d4d4d" text-anchor="end">0.00</text>
<text x="58.7" y="760.40" font-size="16" fill="#4d4d4d" text-anchor="end">0.25</text>
<text x="58.7" y="692.20" font-size="16" fill="#4d4d4d" text-anchor="end">0.50</text>
<text x="58.7" y="624.00" font-size="16" fill="#4d4d4d" text-anchor="end">0.75</text>
<text x="58.7" y="555.80" font-size="16" fill="#4d4d4d" text-anchor="end">1.00</text>
<text transform="translate(92.60,853.6) scale(1,1.03)" font-size="16" fill="#4d4d4d" text-anchor="middle">0</text>
<text transform="translate(182.95,853.6) scale(1,1.03)" font-size="16" fill="#4d4d4d" text-anchor="middle">5</text>
<text transform="translate(273.30,853.6) scale(1,1.03)" font-size="16" fill="#4d4d4d" text-anchor="middle">10</text>
<text transform="translate(363.65,853.6) scale(1,1.03)" font-size="16" fill="#4d4d4d" text-anchor="middle">15</text>
<text transform="translate(454.00,853.6) scale(1,1.03)" font-size="16" fill="#4d4d4d" text-anchor="middle">20</text>
<text transform="translate(544.35,853.6) scale(1,1.03)" font-size="16" fill="#4d4d4d" text-anchor="middle">25</text>
<text transform="translate(634.70,853.6) scale(1,1.03)" font-size="16" fill="#4d4d4d" text-anchor="middle">30</text>
<text x="329.7" y="868.2" font-size="12.2" fill="#000" textLength="67.2" lengthAdjust="spacingAndGlyphs">Time (Days)</text>
<text transform="translate(18.9,798.2) rotate(-90)" font-size="17.3" fill="#000" textLength="225" lengthAdjust="spacingAndGlyphs">Cumulative Survival Probability</text>
<text x="141.2" y="771.8" font-size="11.8" fill="#000" textLength="50" lengthAdjust="spacingAndGlyphs">p = 0.043</text>
<text x="75.0" y="811.9" font-size="26.4" font-weight="bold" fill="#000" textLength="14.6" lengthAdjust="spacingAndGlyphs">B</text>
<text x="187.6" y="516.4" font-size="15.4" font-weight="bold" fill="#000" textLength="77" lengthAdjust="spacingAndGlyphs">PCT class</text>
<rect x="275.10" y="503.3" width="13.2" height="14" fill="#ff0000" fill-opacity="0.25"/>
<line x1="276.10" x2="287.20" y1="510.3" y2="510.3" stroke="#ff0000" stroke-width="1.7"/>
<text x="297.30" y="516.4" font-size="15.4" font-weight="bold" fill="#000" textLength="58.60" lengthAdjust="spacingAndGlyphs">class=1</text>
<rect x="366.20" y="503.3" width="13.2" height="14" fill="#00ff00" fill-opacity="0.25"/>
<line x1="367.20" x2="378.30" y1="510.3" y2="510.3" stroke="#00ff00" stroke-width="1.7"/>
<text x="388.90" y="516.4" font-size="15.4" font-weight="bold" fill="#000" textLength="59.20" lengthAdjust="spacingAndGlyphs">class=2</text>
<rect x="457.90" y="503.3" width="13.2" height="14" fill="#0000ff" fill-opacity="0.25"/>
<line x1="458.90" x2="470.00" y1="510.3" y2="510.3" stroke="#0000ff" stroke-width="1.7"/>
<text x="480.30" y="516.4" font-size="15.4" font-weight="bold" fill="#000" textLength="58.80" lengthAdjust="spacingAndGlyphs">class=3</text>
<line x1="137.77" x2="137.77" y1="903.0" y2="947.2" stroke="#f0f0f0" stroke-width="0.6"/><line x1="228.12" x2="228.12" y1="903.0" y2="947.2" stroke="#f0f0f0" stroke-width="0.6"/><line x1="318.48" x2="318.48" y1="903.0" y2="947.2" stroke="#f0f0f0" stroke-width="0.6"/><line x1="408.83" x2="408.83" y1="903.0" y2="947.2" stroke="#f0f0f0" stroke-width="0.6"/><line x1="499.17" x2="499.17" y1="903.0" y2="947.2" stroke="#f0f0f0" stroke-width="0.6"/><line x1="589.52" x2="589.52" y1="903.0" y2="947.2" stroke="#f0f0f0" stroke-width="0.6"/><line x1="92.60" x2="92.60" y1="903.0" y2="947.2" stroke="#ebebeb" stroke-width="1.1"/><line x1="182.95" x2="182.95" y1="903.0" y2="947.2" stroke="#ebebeb" stroke-width="1.1"/><line x1="273.30" x2="273.30" y1="903.0" y2="947.2" stroke="#ebebeb" stroke-width="1.1"/><line x1="363.65" x2="363.65" y1="903.0" y2="947.2" stroke="#ebebeb" stroke-width="1.1"/><line x1="454.00" x2="454.00" y1="903.0" y2="947.2" stroke="#ebebeb" stroke-width="1.1"/><line x1="544.35" x2="544.35" y1="903.0" y2="947.2" stroke="#ebebeb" stroke-width="1.1"/><line x1="634.70" x2="634.70" y1="903.0" y2="947.2" stroke="#ebebeb" stroke-width="1.1"/><line x1="65.1" x2="661.6" y1="911.3" y2="911.3" stroke="#ebebeb" stroke-width="1.1"/><line x1="65.1" x2="661.6" y1="925.2" y2="925.2" stroke="#ebebeb" stroke-width="1.1"/><line x1="65.1" x2="661.6" y1="939.0" y2="939.0" stroke="#ebebeb" stroke-width="1.1"/>
<rect x="65.1" y="903.0" width="596.5" height="44.200000000000045" fill="none" stroke="#6b6b6b" stroke-width="1.1"/>
<line x1="61.70" x2="65.1" y1="911.3" y2="911.3" stroke="#333" stroke-width="1.1"/><line x1="61.70" x2="65.1" y1="925.2" y2="925.2" stroke="#333" stroke-width="1.1"/><line x1="61.70" x2="65.1" y1="939.0" y2="939.0" stroke="#333" stroke-width="1.1"/><line x1="92.60" x2="92.60" y1="947.2" y2="950.40" stroke="#333" stroke-width="1.1"/><line x1="182.95" x2="182.95" y1="947.2" y2="950.40" stroke="#333" stroke-width="1.1"/><line x1="273.30" x2="273.30" y1="947.2" y2="950.40" stroke="#333" stroke-width="1.1"/><line x1="363.65" x2="363.65" y1="947.2" y2="950.40" stroke="#333" stroke-width="1.1"/><line x1="454.00" x2="454.00" y1="947.2" y2="950.40" stroke="#333" stroke-width="1.1"/><line x1="544.35" x2="544.35" y1="947.2" y2="950.40" stroke="#333" stroke-width="1.1"/><line x1="634.70" x2="634.70" y1="947.2" y2="950.40" stroke="#333" stroke-width="1.1"/>
<text x="92.60" y="914.90" font-size="10.1" fill="#000" text-anchor="middle">43</text>
<text x="182.95" y="914.90" font-size="10.1" fill="#000" text-anchor="middle">23</text>
<text x="273.30" y="914.90" font-size="10.1" fill="#000" text-anchor="middle">17</text>
<text x="363.65" y="914.90" font-size="10.1" fill="#000" text-anchor="middle">10</text>
<text x="454.00" y="914.90" font-size="10.1" fill="#000" text-anchor="middle">10</text>
<text x="544.35" y="914.90" font-size="10.1" fill="#000" text-anchor="middle">6</text>
<text x="634.70" y="914.90" font-size="10.1" fill="#000" text-anchor="middle">3</text>
<text x="92.60" y="928.80" font-size="10.1" fill="#000" text-anchor="middle">354</text>
<text x="182.95" y="928.80" font-size="10.1" fill="#000" text-anchor="middle">275</text>
<text x="273.30" y="928.80" font-size="10.1" fill="#000" text-anchor="middle">204</text>
<text x="363.65" y="928.80" font-size="10.1" fill="#000" text-anchor="middle">139</text>
<text x="454.00" y="928.80" font-size="10.1" fill="#000" text-anchor="middle">103</text>
<text x="544.35" y="928.80" font-size="10.1" fill="#000" text-anchor="middle">64</text>
<text x="634.70" y="928.80" font-size="10.1" fill="#000" text-anchor="middle">44</text>
<text x="92.60" y="942.60" font-size="10.1" fill="#000" text-anchor="middle">140</text>
<text x="182.95" y="942.60" font-size="10.1" fill="#000" text-anchor="middle">91</text>
<text x="273.30" y="942.60" font-size="10.1" fill="#000" text-anchor="middle">61</text>
<text x="363.65" y="942.60" font-size="10.1" fill="#000" text-anchor="middle">41</text>
<text x="454.00" y="942.60" font-size="10.1" fill="#000" text-anchor="middle">25</text>
<text x="544.35" y="942.60" font-size="10.1" fill="#000" text-anchor="middle">20</text>
<text x="634.70" y="942.60" font-size="10.1" fill="#000" text-anchor="middle">17</text>
<text x="92.60" y="959.9" font-size="9.8" fill="#000" text-anchor="middle">0</text>
<text x="182.95" y="959.9" font-size="9.8" fill="#000" text-anchor="middle">5</text>
<text x="273.30" y="959.9" font-size="9.8" fill="#000" text-anchor="middle">10</text>
<text x="363.65" y="959.9" font-size="9.8" fill="#000" text-anchor="middle">15</text>
<text x="454.00" y="959.9" font-size="9.8" fill="#000" text-anchor="middle">20</text>
<text x="544.35" y="959.9" font-size="9.8" fill="#000" text-anchor="middle">25</text>
<text x="634.70" y="959.9" font-size="9.8" fill="#000" text-anchor="middle">30</text>
<text x="59.0" y="914.20" font-size="9.7" fill="#ff2a2a" text-anchor="end" textLength="33.2" lengthAdjust="spacingAndGlyphs">class=1</text>
<text x="59.0" y="928.10" font-size="9.7" fill="#22ee22" text-anchor="end" textLength="33.2" lengthAdjust="spacingAndGlyphs">class=2</text>
<text x="59.0" y="941.90" font-size="9.7" fill="#2a2aff" text-anchor="end" textLength="33.2" lengthAdjust="spacingAndGlyphs">class=3</text>
<text x="64.8" y="893.7" font-size="14.2" fill="#000" textLength="97" lengthAdjust="spacingAndGlyphs">Number at risk</text>
<text transform="translate(17.5,952.6) rotate(-90)" font-size="11.8" fill="#000" textLength="54.8" lengthAdjust="spacingAndGlyphs">PCT class</text>
<text x="298.1" y="977.3" font-size="15" fill="#000" textLength="79.2" lengthAdjust="spacingAndGlyphs">Time (Days)</text>
</svg>
</body></html>
